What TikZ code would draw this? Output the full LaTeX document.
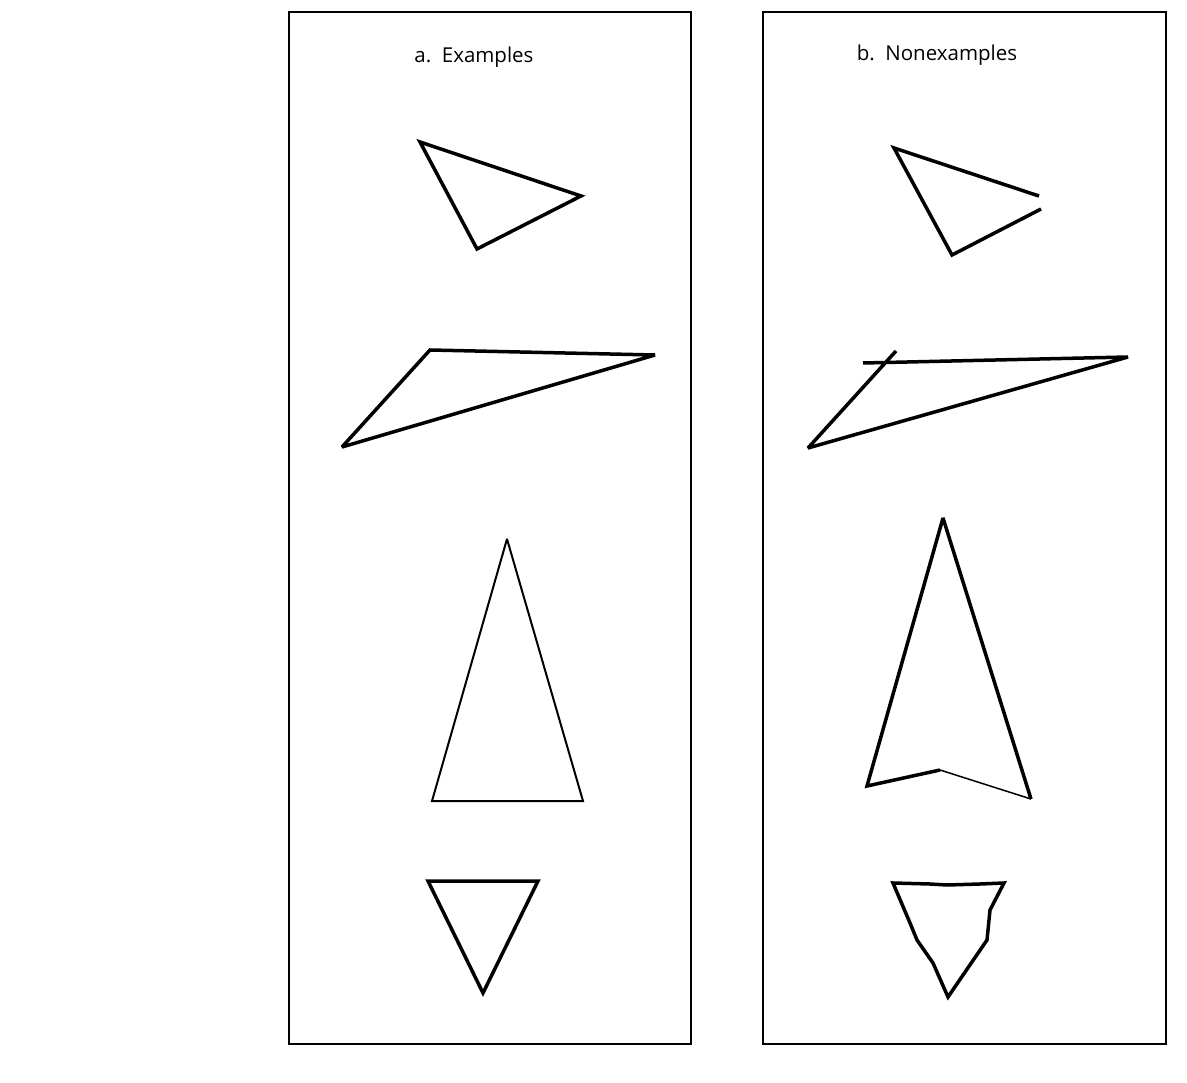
\documentclass[tikz,border=0pt]{standalone}
\usepackage{fontspec}
\setmainfont{Open Sans}
\begin{document}
\begin{tikzpicture}[x=1pt,y=-1pt,
  frame/.style={draw=black,line width=1.3pt},
  figline/.style={draw=black,line width=3.5pt,line join=miter,miter limit=3},
  thinfig/.style={draw=black,line width=2pt,line join=miter,miter limit=3},
  lbl/.style={font=\fontsize{20.5}{24}\selectfont,inner sep=0pt}]
\useasboundingbox (0,0) rectangle (1187,1083);
% frames
\draw[frame] (289,12) rectangle (691,1044);
\draw[frame] (763,12) rectangle (1166,1044);
\node[lbl] (ta) at (474,57) {a.\, Examples};
\node[lbl] (tb) at (937,55) {b.\, Nonexamples};
% examples
\draw[figline] (420,142) -- (581,196) -- (477,249) -- cycle;
\draw[figline] (430,350) -- (655,355) -- (342,447) -- cycle;
\draw[thinfig] (507,539) -- (432,801) -- (583,801) -- cycle;
\draw[figline] (428,881) -- (538,881) -- (483,993) -- cycle;
% nonexamples
\draw[figline,line cap=butt] (1039,196) -- (894,148) -- (952,255) -- (1041,209);
\draw[figline] (863,363) -- (1128,357) -- (808,448) -- (896,351);
\draw[figline] (1031,799) -- (943,518) -- (867,786) -- (940,770);
\draw[draw=black,line width=1.5pt] (940,770) -- (1031,799);
\draw[figline] (893,883) -- (930,884) -- (947,885) -- (980,884) -- (1004,883) -- (990,910) -- (987,940) -- (948,997) -- (933,963) -- (917,940) -- (910,923) -- cycle;
\end{tikzpicture}
\end{document}
